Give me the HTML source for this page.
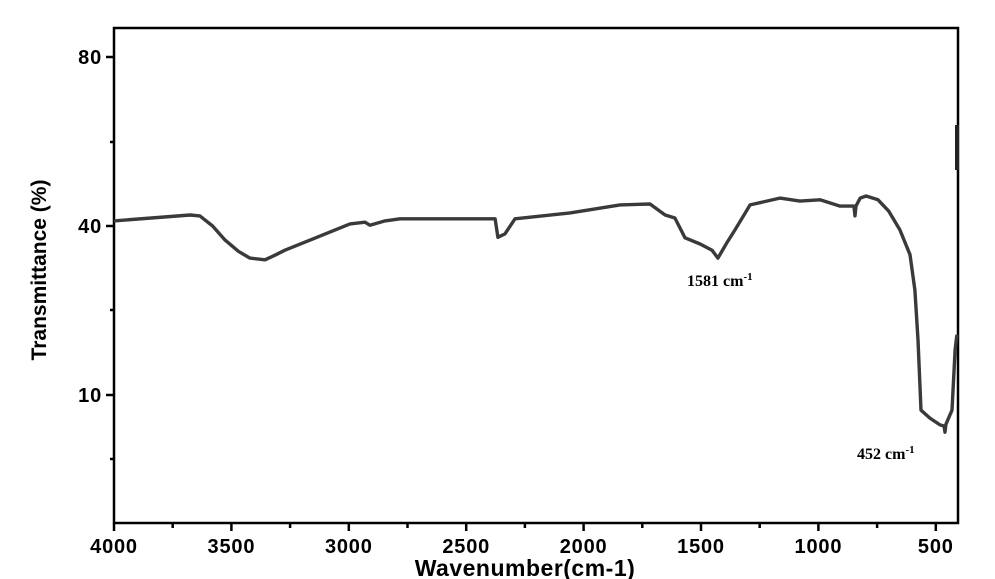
<!DOCTYPE html>
<html><head><meta charset="utf-8"><style>
body{margin:0;background:#fff;}
svg{display:block;font-family:"Liberation Sans",Arial,sans-serif;}
</style></head><body>
<svg id="chart" width="995" height="579" viewBox="0 0 995 579">
<g id="axes"></g>
<path id="curve" fill="none" stroke="#3a3a3a" stroke-width="3.4" stroke-linejoin="round"/>
<line x1="957" x2="957" y1="125" y2="170" stroke="#222" stroke-width="4"/>
<text x="0" y="0" transform="translate(46,270) rotate(-90)" text-anchor="middle" font-size="21" font-weight="bold">Transmittance (%)</text>
<text x="525" y="576" text-anchor="middle" font-size="23" font-weight="bold" letter-spacing="0.5">Wavenumber(cm-1)</text>
<text x="687" y="286" font-family="Liberation Serif,serif" font-size="16" font-weight="bold">1581 cm<tspan dy="-6" font-size="11">-1</tspan></text>
<text x="857" y="459" font-family="Liberation Serif,serif" font-size="16" font-weight="bold">452 cm<tspan dy="-6" font-size="11">-1</tspan></text>
</svg>
<script>
const wavenumbers=[4000,3676,3634,3580,3527,3470,3421,3357,3310,3272,3165,2995,2931,2910,2846,2782,2377,2365,2335,2292,2058,1845,1717,1653,1611,1568,1504,1453,1428,1390,1355,1291,1164,1079,993,908,849,844,840,822,797,746,700,653,610,589,576,563,525,482,465,461,457,431,418,410];
const transmittance=[41.2,42.6,42.4,40.0,37.5,35.5,34.3,34.0,34.9,35.7,37.5,40.5,40.9,40.2,41.2,41.7,41.7,38.0,38.6,41.7,43.1,45.0,45.2,42.6,41.9,37.9,36.8,35.7,34.3,37.0,39.3,45.0,46.6,45.9,46.2,44.7,44.7,42.4,44.7,46.6,47.1,46.2,43.5,39.3,34.9,28.6,19.8,7.3,5.9,4.7,4.5,3.4,4.8,7.3,18.0,20.7];
const xTicks=[4000,3500,3000,2500,2000,1500,1000,500];
const yTicks=[80,40,10];
const ns="http://www.w3.org/2000/svg";
function xs(w){return 114+(4000-w)*117.4/500;}
function ys(v){
  if(v>=40) return 226-(v-40)*169/40;
  return 226+(40-v)*169/30;
}
const axes=document.getElementById('axes');
function el(t,a){const e=document.createElementNS(ns,t);for(const k in a)e.setAttribute(k,a[k]);return e;}
const frame=el('rect',{x:114,y:28,width:844,height:495,fill:'none',stroke:'#000','stroke-width':2.5});


axes.appendChild(frame);
xTicks.forEach((t,i)=>{
  const x=xs(t);
  const tk=el('line',{x1:x,x2:x,y1:523,y2:531,stroke:'#000','stroke-width':2.5});
  
  
  axes.appendChild(tk);
  if(i<xTicks.length-1){const mx=xs(t-250);
    const m=el('line',{x1:mx,x2:mx,y1:523,y2:528,stroke:'#000','stroke-width':2.5});
    
    
    axes.appendChild(m);}
  const lb=el('text',{x:x,y:553,'text-anchor':'middle','font-size':20,'font-weight':'bold','letter-spacing':'0.8'});
  lb.textContent=t;
  
  
  axes.appendChild(lb);
});
yTicks.forEach((t,i)=>{
  const y=ys(t);
  const tk=el('line',{x1:106,x2:114,y1:y,y2:y,stroke:'#000','stroke-width':2.5});
  
  
  axes.appendChild(tk);
  const lb=el('text',{x:102,y:y+7,'text-anchor':'end','font-size':20,'font-weight':'bold','letter-spacing':'0.8'});
  lb.textContent=t;
  
  
  axes.appendChild(lb);
});
[142,310,459].forEach(y=>{
  const m=el('line',{x1:110,x2:114,y1:y,y2:y,stroke:'#000','stroke-width':2.5});
  
  
  axes.appendChild(m);
});
let d='';
wavenumbers.forEach((w,i)=>{d+=(i?'L':'M')+xs(w).toFixed(1)+','+ys(transmittance[i]).toFixed(1);});
document.getElementById('curve').setAttribute('d',d);
</script>
</body></html>
